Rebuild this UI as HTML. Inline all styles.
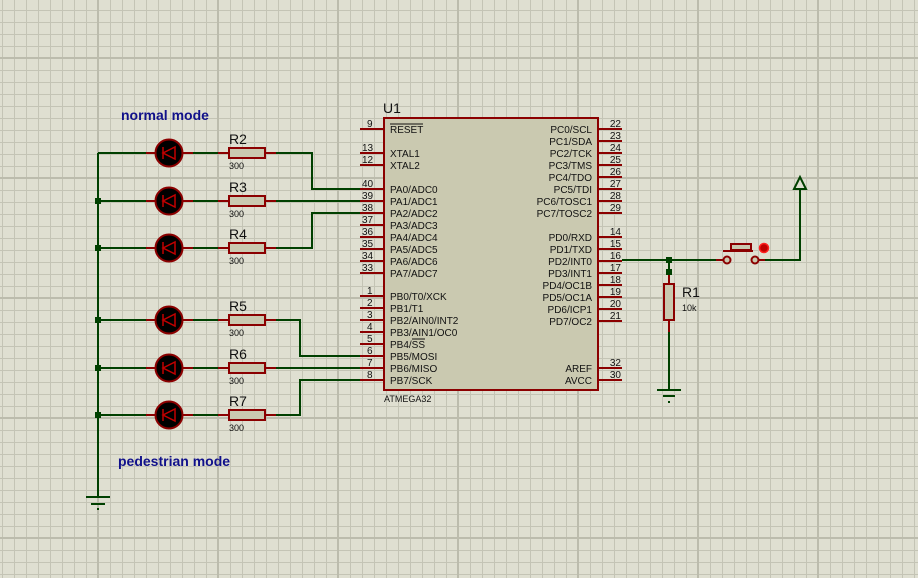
<!DOCTYPE html>
<html><head><meta charset="utf-8"><style>
html,body{margin:0;padding:0;background:#dfdfd1;}
svg{display:block;}
text{font-family:"Liberation Sans",sans-serif;fill:#111;}
.pn{font-size:10px;}
.pl{font-size:10px;}
.pr{font-size:10px;text-anchor:end;}
.g{stroke:#004000;stroke-width:2;fill:none;}
.r{stroke:#8b0000;stroke-width:2;fill:none;}
</style></head><body>
<svg width="918" height="578" viewBox="0 0 918 578" xmlns="http://www.w3.org/2000/svg">
<defs>
<pattern id="mn" x="2" y="10" width="12" height="12" patternUnits="userSpaceOnUse">
<path d="M0.5 0V12M0 0.5H12" stroke="#c4c4b5" stroke-width="1"/>
</pattern>
<pattern id="mj" x="97" y="57" width="120" height="120" patternUnits="userSpaceOnUse">
<path d="M1 0V120M0 1H120" stroke="#bcbcad" stroke-width="2"/>
</pattern>
<g id="led">
<circle cx="0" cy="0" r="13.5" fill="#000" stroke="#8b0000" stroke-width="2"/>
<path d="M-6 -6V6M-6 0L6 -6V6Z" stroke="#c00000" stroke-width="1.5" fill="none"/>
</g>
<g id="res">
<rect x="0" y="-5" width="36" height="10" fill="#cac9b0" stroke="#8b0000" stroke-width="2"/>
</g>
</defs>
<rect width="918" height="578" fill="#dfdfd1"/>
<rect width="918" height="578" fill="url(#mn)"/>
<rect width="918" height="578" fill="url(#mj)"/>

<text x="121" y="120" style="font-size:14px;font-weight:bold;fill:#10108a">normal mode</text>
<text x="118" y="466" style="font-size:14px;font-weight:bold;fill:#10108a">pedestrian mode</text>

<path class="g" d="M98 153V497"/>
<path class="g" d="M86 497H110M91 504H105M97 509H99"/>
<g fill="#004000">
<rect x="95" y="198" width="6" height="6"/><rect x="95" y="245" width="6" height="6"/>
<rect x="95" y="317" width="6" height="6"/><rect x="95" y="365" width="6" height="6"/>
<rect x="95" y="412" width="6" height="6"/>
</g>

<g>
<path class="g" d="M98 153H146M193 153H218M276 153H312V189H360"/>
<path class="g" d="M98 201H146M193 201H218M276 201H360"/>
<path class="g" d="M98 248H146M193 248H218M276 248H312V213H360"/>
<path class="g" d="M98 320H146M193 320H218M276 320H300V356H360"/>
<path class="g" d="M98 368H146M193 368H218M276 368H360"/>
<path class="g" d="M98 415H146M193 415H218M276 415H300V380H360"/>
</g>
<g class="r">
<path d="M146 153H193M218 153H276M146 201H193M218 201H276M146 248H193M218 248H276M146 320H193M218 320H276M146 368H193M218 368H276M146 415H193M218 415H276"/>
</g>
<use href="#led" x="169" y="153"/><use href="#led" x="169" y="201"/><use href="#led" x="169" y="248"/>
<use href="#led" x="169" y="320"/><use href="#led" x="169" y="368"/><use href="#led" x="169" y="415"/>
<use href="#res" x="229" y="153"/><use href="#res" x="229" y="201"/><use href="#res" x="229" y="248"/>
<use href="#res" x="229" y="320"/><use href="#res" x="229" y="368"/><use href="#res" x="229" y="415"/>
<g style="font-size:14px">
<text x="229" y="144">R2</text><text x="229" y="192">R3</text><text x="229" y="239">R4</text>
<text x="229" y="311">R5</text><text x="229" y="359">R6</text><text x="229" y="406">R7</text>
</g>
<g style="font-size:9px">
<text x="229" y="169">300</text><text x="229" y="217">300</text><text x="229" y="264">300</text>
<text x="229" y="336">300</text><text x="229" y="384">300</text><text x="229" y="431">300</text>
</g>

<rect x="384" y="118" width="214" height="272" fill="#cac9b0" stroke="#8b0000" stroke-width="2"/>
<text x="383" y="113" style="font-size:14px">U1</text>
<text x="384" y="402" style="font-size:9px">ATMEGA32</text>
<path class="r" d="M360 129H384M360 153H384M360 165H384M360 189H384M360 201H384M360 213H384M360 225H384M360 237H384M360 249H384M360 261H384M360 273H384M360 296H384M360 308H384M360 320H384M360 332H384M360 344H384M360 356H384M360 368H384M360 380H384"/>
<path class="r" d="M598 129H622M598 141H622M598 153H622M598 165H622M598 177H622M598 189H622M598 201H622M598 213H622M598 237H622M598 249H622M598 261H622M598 273H622M598 285H622M598 297H622M598 309H622M598 321H622M598 368H622M598 380H622"/>
<g class="pn">
<text x="367" y="127">9</text><text x="362" y="151">13</text><text x="362" y="163">12</text>
<text x="362" y="187">40</text><text x="362" y="199">39</text><text x="362" y="211">38</text><text x="362" y="223">37</text>
<text x="362" y="235">36</text><text x="362" y="247">35</text><text x="362" y="259">34</text><text x="362" y="271">33</text>
<text x="367" y="294">1</text><text x="367" y="306">2</text><text x="367" y="318">3</text><text x="367" y="330">4</text>
<text x="367" y="342">5</text><text x="367" y="354">6</text><text x="367" y="366">7</text><text x="367" y="378">8</text>
</g>
<g class="pn" style="text-anchor:end">
<text x="621" y="127">22</text><text x="621" y="139">23</text><text x="621" y="151">24</text><text x="621" y="163">25</text>
<text x="621" y="175">26</text><text x="621" y="187">27</text><text x="621" y="199">28</text><text x="621" y="211">29</text>
<text x="621" y="235">14</text><text x="621" y="247">15</text><text x="621" y="259">16</text><text x="621" y="271">17</text>
<text x="621" y="283">18</text><text x="621" y="295">19</text><text x="621" y="307">20</text><text x="621" y="319">21</text>
<text x="621" y="366">32</text><text x="621" y="378">30</text>
</g>
<g class="pl">
<text x="390" y="133">RESET</text>
<text x="390" y="157">XTAL1</text><text x="390" y="169">XTAL2</text>
<text x="390" y="193">PA0/ADC0</text><text x="390" y="205">PA1/ADC1</text><text x="390" y="217">PA2/ADC2</text>
<text x="390" y="229">PA3/ADC3</text><text x="390" y="241">PA4/ADC4</text><text x="390" y="253">PA5/ADC5</text>
<text x="390" y="265">PA6/ADC6</text><text x="390" y="277">PA7/ADC7</text>
<text x="390" y="300">PB0/T0/XCK</text><text x="390" y="312">PB1/T1</text><text x="390" y="324">PB2/AIN0/INT2</text>
<text x="390" y="336">PB3/AIN1/OC0</text><text x="390" y="348">PB4/SS</text>
<text x="390" y="360">PB5/MOSI</text><text x="390" y="372">PB6/MISO</text><text x="390" y="384">PB7/SCK</text>
</g>
<path d="M390 124H423M412 339H425" stroke="#111" stroke-width="1"/>
<g class="pr">
<text x="592" y="133">PC0/SCL</text><text x="592" y="145">PC1/SDA</text><text x="592" y="157">PC2/TCK</text>
<text x="592" y="169">PC3/TMS</text><text x="592" y="181">PC4/TDO</text><text x="592" y="193">PC5/TDI</text>
<text x="592" y="205">PC6/TOSC1</text><text x="592" y="217">PC7/TOSC2</text>
<text x="592" y="241">PD0/RXD</text><text x="592" y="253">PD1/TXD</text><text x="592" y="265">PD2/INT0</text>
<text x="592" y="277">PD3/INT1</text><text x="592" y="289">PD4/OC1B</text><text x="592" y="301">PD5/OC1A</text>
<text x="592" y="313">PD6/ICP1</text><text x="592" y="325">PD7/OC2</text>
<text x="592" y="372">AREF</text><text x="592" y="384">AVCC</text>
</g>

<path class="g" d="M622 260H716M765 260H800V189"/>
<path d="M794 189L800 177L806 189Z" fill="none" stroke="#004000" stroke-width="2"/>
<path class="r" d="M716 260H723M758 260H765"/>
<circle cx="727" cy="260" r="3.5" fill="#cac9b0" stroke="#8b0000" stroke-width="2"/>
<circle cx="755" cy="260" r="3.5" fill="#cac9b0" stroke="#8b0000" stroke-width="2"/>
<rect x="731" y="244" width="20" height="6" fill="#cac9b0" stroke="#8b0000" stroke-width="2"/>
<path class="r" d="M723 251H753"/>
<circle cx="764" cy="248" r="4.5" fill="#c00000" stroke="#ff2020" stroke-width="1.5"/>
<path class="g" d="M669 260V272M669 332V390M657 390H681M663 396H675M668 402H670"/>
<path class="r" d="M669 272V284M669 320V332"/>
<rect x="666" y="257" width="6" height="6" fill="#004000"/>
<rect x="666" y="269" width="6" height="6" fill="#004000"/>
<rect x="664" y="284" width="10" height="36" fill="#cac9b0" stroke="#8b0000" stroke-width="2"/>
<text x="682" y="297" style="font-size:14px">R1</text>
<text x="682" y="311" style="font-size:9px">10k</text>
</svg>
</body></html>
